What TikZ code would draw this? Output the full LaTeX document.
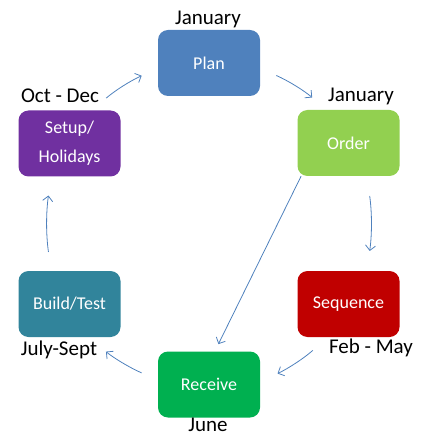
\documentclass[tikz,border=0pt]{standalone}
\usepackage{fontspec}
\setmainfont{Carlito}
\usetikzlibrary{arrows.meta}
\definecolor{planblue}{HTML}{4F81BD}
\definecolor{ordergreen}{HTML}{92D050}
\definecolor{setuppurple}{HTML}{7030A0}
\definecolor{buildteal}{HTML}{31849B}
\definecolor{seqred}{HTML}{C00000}
\definecolor{recvgreen}{HTML}{00B050}
\definecolor{linkblue}{HTML}{4F81BD}
\begin{document}
\begin{tikzpicture}[x=1pt,y=-1pt,
  box/.style={fill=#1,rounded corners=10pt,minimum width=102pt,minimum height=66pt,
    inner sep=0pt,text=white,align=center,font=\fontsize{18}{29}\selectfont},
  when/.style={font=\fontsize{21}{24}\selectfont},
  link/.style={draw=linkblue,line width=0.8pt,-{Straight Barb[length=5pt,width=10pt]}}]
\useasboundingbox (0,0) rectangle (427,446);
% the six steps
\node[box=planblue] (plan) at (209,63) {Plan};
\node[box=ordergreen] (order) at (348.5,143) {Order};
\node[box=seqred] (seq) at (348.5,304) {Sequence};
\node[box=recvgreen] (recv) at (209,384.5) {Receive};
\node[box=buildteal] (build) at (69.5,304) {Build/Test};
\node[box=setuppurple] (setup) at (69.5,143.5) {Setup/\\Holidays};
% when
\node[when] (janplan) at (208,19) {January};
\node[when] (janorder) at (361,96) {January};
\node[when] (febmay) at (371,348) {Feb - May};
\node[when] (june) at (208,425) {June};
\node[when] (julysept) at (59,350) {July-Sept};
\node[when] (octdec) at (60,96) {Oct - Dec};
% the cycle
\draw[link,shorten <=18.8pt,shorten >=17.7pt] (setup.56) to[bend left=8] (plan.186);
\draw[link,shorten <=17.6pt,shorten >=19.2pt] (plan.354) to[bend left=8] (order.123);
\draw[link,shorten <=20pt,shorten >=20pt] (order.299) to[bend left=8] (seq.61);
\draw[link,shorten <=20pt,shorten >=19.2pt] (seq.238) to[bend left=8] (recv.3);
\draw[link,shorten <=17.7pt,shorten >=22.5pt] (recv.175) to[bend left=8] (build.300);
\draw[link,shorten <=19pt,shorten >=19pt] (build.119) to[bend left=8] (setup.241);
\draw[link,shorten >=8pt] (order.215) -- (recv.80);
\end{tikzpicture}
\end{document}
